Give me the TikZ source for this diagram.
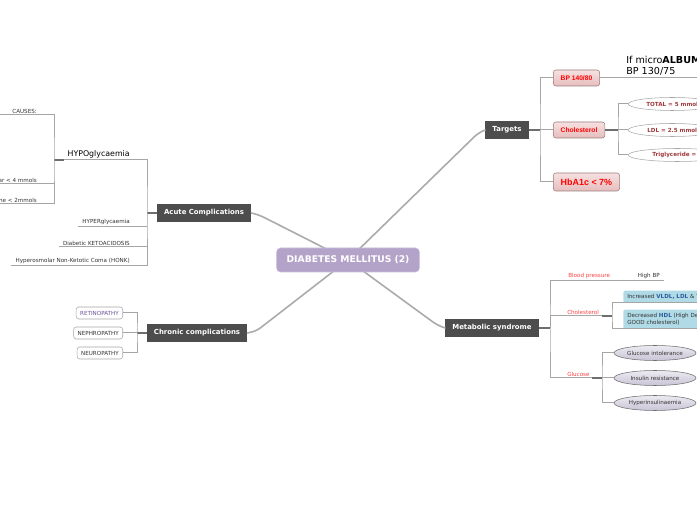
\documentclass[tikz,border=0pt]{standalone}
\usepackage{fontspec}
\setmainfont{DejaVu Sans}
\newfontfamily\arialfont{Liberation Sans}
\usetikzlibrary{shapes.geometric}
\newdimen\pxu \pxu=0.75pt
\definecolor{rootfill}{HTML}{B3A3C9}
\definecolor{rootline}{HTML}{C9BDDA}
\definecolor{topicfill}{HTML}{4D4D4D}
\definecolor{linegray}{HTML}{A6A6A6}
\definecolor{stubgray}{HTML}{6E6E6E}
\definecolor{trunkgray}{HTML}{ABABAB}
\definecolor{pinktop}{HTML}{F7E1E1}
\definecolor{pinkbot}{HTML}{E6BDBD}
\definecolor{pinkline}{HTML}{9C7C7C}
\definecolor{ovaltext}{HTML}{A0393D}
\definecolor{infofill}{HTML}{AFDAE6}
\definecolor{infoblue}{HTML}{2B5D9C}
\definecolor{pilltop}{HTML}{ECEAF1}
\definecolor{pillfill}{HTML}{C9C4D6}
\definecolor{labelred}{HTML}{FF4040}
\definecolor{retipurple}{HTML}{6A5294}
\definecolor{textdark}{HTML}{333333}
\tikzset{trunk/.style={draw=trunkgray, line width=1.2pt, line cap=round, rounded corners=4pt}}
\tikzset{branch/.style={draw=linegray, line width=0.75pt}}
\tikzset{stub/.style={draw=stubgray, line width=1.1pt}}
\tikzset{root/.style={rounded corners=3pt, fill=rootfill, draw=rootline, text=white, font=\fontsize{6.9pt}{8pt}\selectfont\bfseries, inner xsep=7.5pt, minimum height=18pt}}
\tikzset{topic/.style={fill=topicfill, text=white, font=\fontsize{5.2pt}{6.2pt}\selectfont\bfseries, inner xsep=5.3pt, minimum height=14pt}}
\tikzset{target/.style={anchor=west, rounded corners=2pt, draw=pinkline, top color=pinktop, bottom color=pinkbot, text=red, font=\arialfont\bfseries\fontsize{5pt}{6pt}\selectfont, inner xsep=5.6pt, minimum height=12pt}}
\tikzset{oval/.style={ellipse, anchor=west, draw=linegray, fill=white, text=ovaltext, font=\fontsize{4.2pt}{5pt}\selectfont\bfseries, inner sep=0pt, minimum width=88\pxu, minimum height=13\pxu}}
\tikzset{pill/.style={ellipse, draw=stubgray, top color=pilltop, bottom color=pillfill, text=textdark, font=\fontsize{4.2pt}{5pt}\selectfont, inner sep=0pt, minimum width=82\pxu, minimum height=15\pxu}}
\tikzset{info/.style={anchor=south west, rounded corners=1.5pt, fill=infofill, text=textdark, font=\fontsize{4.2pt}{5.2pt}\selectfont, text width=95\pxu, align=left, inner xsep=4\pxu, inner ysep=1pt, minimum height=12\pxu}}
\tikzset{leaf/.style={anchor=south east, text=textdark, font=\fontsize{4.2pt}{5pt}\selectfont, inner xsep=3pt, inner ysep=1.2pt}}
\tikzset{tag/.style={anchor=east, rounded corners=2pt, draw=linegray, fill=white, text=textdark, font=\fontsize{4.2pt}{5pt}\selectfont, inner xsep=3pt, inner ysep=0pt, minimum height=12\pxu}}
\tikzset{note/.style={anchor=south west, font=\fontsize{7.2pt}{8.6pt}\selectfont, align=left, inner xsep=0pt, inner ysep=1.5pt}}

\begin{document}
\begin{tikzpicture}[x=0.75pt, y=-0.75pt]
\useasboundingbox (0,0) rectangle (697,520);
\clip (0,0) rectangle (697,520);
\coordinate (dmc) at (348,260);
\coordinate (edge) at (-4,0);

\node[topic] (tg) at (507,130) {Targets};
\node[topic] (acute) at (204,213) {Acute Complications};
\node[topic] (chr) at (197,333) {Chronic complications};
\node[topic] (met) at (492,328) {Metabolic syndrome};

\draw[trunk] (dmc) -- ([shift={(-7,3)}]tg.west) -- (tg.west);
\draw[trunk] (dmc) -- ([shift={(8,2)}]acute.east) -- (acute.east);
\draw[trunk] (dmc) -- ([shift={(9,-2)}]chr.east) -- (chr.east);
\draw[trunk] (dmc) -- ([shift={(-8,-3)}]met.west) -- (met.west);
\node[root] (dm) at (dmc) {DIABETES MELLITUS (2)};

\coordinate (tj) at (540,130);
\coordinate (cj) at (618,130);
\node[target] (bp) at (553,78) {BP 140/80};
\node[target] (chol) at (553,130) {Cholesterol};
\node[target, font=\arialfont\bfseries\fontsize{6.7pt}{8pt}\selectfont, minimum height=18\pxu] (hba) at (553,182) {HbA1c < 7\%};
\node[note] (album) at (626,78) {If micro\textbf{ALBUM}\\BP 130/75};
\node[oval] (total) at (628,104) {TOTAL = 5 mmol};
\node[oval] (ldl) at (628,130) {LDL = 2.5 mmol};
\node[oval, minimum width=98\pxu] (trig) at (628,155) {Triglyceride = 2};
\draw[stub] (tg.east) -- (tj);
\draw[branch] (tj) -- (chol.west);
\draw[branch] (bp.west) -| (tj) |- (hba.west);
\draw[branch] (bp.east) -- (album.south east);
\draw[stub] (chol.east) -- (cj);
\draw[branch] (cj) -- (ldl.west);
\draw[branch] (total.west) -| (cj) |- (trig.west);

\coordinate (aj) at (147,213);
\coordinate (hj) at (54,160);
\node[leaf, text=black, font=\fontsize{5.9pt}{7pt}\selectfont] (hypo) at (134,160) {HYPOglycaemia};
\node[leaf] (hyper) at (134,227) {HYPERglycaemia};
\node[leaf] (keto) at (134,247) {Diabetic KETOACIDOSIS};
\node[leaf] (honk) at (134,266) {Hyperosmolar Non-Ketotic Coma (HONK)};
\node[leaf] (causes) at (41,115) {CAUSES:};
\node[leaf] (sugar) at (41,184) {ar < 4 mmols};
\node[leaf] (coma) at (41,204) {ne < 2mmols};
\draw[stub] (acute.west) -- (aj);
\draw[branch] (hj) -| (aj) |- (honk.south west);
\draw[branch] (hyper.south west) -- (hyper.south west -| aj);
\draw[branch] (keto.south west) -- (keto.south west -| aj);
\draw[stub] (hj) -- +(10,0);
\draw[branch] (causes.south -| edge) -| (hj) |- (coma.south -| edge);
\draw[branch] (sugar.south -| edge) -- (sugar.south -| hj);

\coordinate (chj) at (137,333);
\node[tag, text=retipurple] (reti) at (123,313) {RETINOPATHY};
\node[tag] (nephro) at (123,333) {NEPHROPATHY};
\node[tag] (neuro) at (123,353) {NEUROPATHY};
\draw[stub] (chr.west) -- (chj);
\draw[branch] (chj) -- (nephro.east);
\draw[branch] (reti.east) -| (chj) |- (neuro.east);

\coordinate (mj) at (550,328);
\coordinate (cj2) at (612,316);
\coordinate (gj) at (602,378);
\node[leaf, anchor=south west, text=labelred] (bloodp) at (564,281) {Blood pressure};
\node[leaf] (highbp) at (664,281) {High BP};
\node[leaf, anchor=south west, text=labelred] (cholm) at (563,316) {Cholesterol};
\node[leaf, anchor=south west, text=labelred] (gluc) at (563,378) {Glucose};
\node[info] (vldl) at (623,303) {Increased {\bfseries\color{infoblue}VLDL, LDL} \& T};
\node[info, minimum height=19\pxu] (hdl) at (623,329) {Decreased {\bfseries\color{infoblue}HDL} (High De\\GOOD cholesterol)};
\node[pill] (ginto) at (655,353) {Glucose intolerance};
\node[pill] (ires) at (655,378) {Insulin resistance};
\node[pill] (hins) at (655,403) {Hyperinsulinaemia};
\draw[stub] (met.east) -- (mj);
\draw[branch] (highbp.south east) -| (mj) |- (gj);
\draw[branch] (mj) |- (cj2);
\draw[branch] (vldl.south east) -| (cj2) |- (hdl.south east);
\draw[stub] (cj2) -- +(-10,0);
\draw[branch] (ginto.west) -| (gj) |- (hins.west);
\draw[branch] (gj) -- (ires.west);
\draw[stub] (gj) -- +(-10,0);
\end{tikzpicture}
\end{document}
